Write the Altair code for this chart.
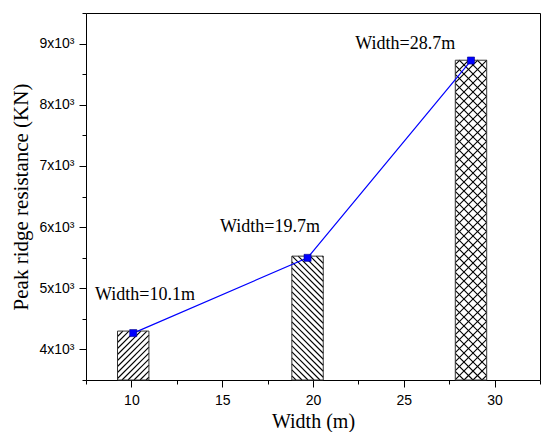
import altair as alt
import pandas as pd
import numpy as np

# ---- data ----
width_m = [10.1, 19.7, 28.7]
bar_kn = [4300, 5525, 8728]
point_kn = [4267, 5497, 8723]
label_text = ["Width=10.1m", "Width=19.7m", "Width=28.7m"]
label_x = [10.75, 17.63, 25.08]
label_y = [4809, 5927, 8912]
x_major = [10, 15, 20, 25, 30]
x_minor = [7.5, 12.5, 17.5, 22.5, 27.5, 32.5]
y_major = [4000, 5000, 6000, 7000, 8000, 9000]
y_minor = [3500, 4500, 5500, 6500, 7500, 8500, 9500]

# ---- layout / style ----
W, H = 454, 367
XDOM = [7.5, 32.5]
YDOM = [3500, 9500]
BAR_W = 1.73
patterns = ["/", "\\", "x"]
spacing_px = [6.0, 6.0, 9.0]
SANS = "Liberation Sans"
SERIF = "Liberation Serif"

bars = pd.DataFrame({
    "x": width_m,
    "xl": [v - BAR_W / 2 for v in width_m],
    "xr": [v + BAR_W / 2 for v in width_m],
    "top": bar_kn,
    "base": [YDOM[0]] * len(bar_kn),
})
pts = pd.DataFrame({"x": width_m, "y": point_kn})
labels = pd.DataFrame({"x": label_x, "y": label_y, "t": label_text})


def to_px(x, y):
    return ((x - XDOM[0]) / (XDOM[1] - XDOM[0]) * W,
            (y - YDOM[0]) / (YDOM[1] - YDOM[0]) * H)


def to_data(u, v):
    return (XDOM[0] + u / W * (XDOM[1] - XDOM[0]),
            YDOM[0] + v / H * (YDOM[1] - YDOM[0]))


def hatch_lines(xl, xr, yb, yt, sign, s):
    u0, v0 = to_px(xl, yb)
    u1, v1 = to_px(xr, yt)
    segs = []
    if sign > 0:  # u - v = c
        cmin, cmax = u0 - v1, u1 - v0
        k0 = int(np.floor(cmin / s))
        k1 = int(np.ceil(cmax / s))
        for k in range(k0, k1 + 1):
            c = k * s
            lo = max(v0, u0 - c)
            hi = min(v1, u1 - c)
            if hi - lo > 0.3:
                segs.append((lo + c, lo, hi + c, hi))
    else:  # u + v = c
        cmin, cmax = u0 + v0, u1 + v1
        k0 = int(np.floor(cmin / s))
        k1 = int(np.ceil(cmax / s))
        for k in range(k0, k1 + 1):
            c = k * s
            lo = max(v0, c - u1)
            hi = min(v1, c - u0)
            if hi - lo > 0.3:
                segs.append((c - lo, lo, c - hi, hi))
    out = []
    for a, b, c2, d in segs:
        x1, y1 = to_data(a, b)
        x2, y2 = to_data(c2, d)
        out.append({"x1": x1, "y1": y1, "x2": x2, "y2": y2})
    return out


rows = []
for i, r in bars.iterrows():
    p = patterns[i]
    s = spacing_px[i]
    if p in ("/", "x"):
        rows += hatch_lines(r.xl, r.xr, r.base, r.top, 1, s)
    if p in ("\\", "x"):
        rows += hatch_lines(r.xl, r.xr, r.base, r.top, -1, s)
hatch = pd.DataFrame(rows)

xs = alt.Scale(domain=XDOM, nice=False, zero=False)
ys = alt.Scale(domain=YDOM, nice=False, zero=False)

x_axis_major = alt.Axis(
    orient="bottom", values=x_major, title="Width (m)", grid=False,
    tickSize=7, tickColor="black", tickWidth=1, domainColor="black", domainWidth=1,
    labelFont=SANS, labelFontSize=14, labelColor="black", labelPadding=6,
    titleFont=SERIF, titleFontSize=20, titleFontWeight="normal", titleColor="black",
    titleY=41, titleBaseline="middle",
)
y_axis_major = alt.Axis(
    orient="left", values=y_major, title="Peak ridge resistance (KN)", grid=False,
    labelExpr="(datum.value/1000) + 'x10³'",
    tickSize=7, tickColor="black", tickWidth=1, domainColor="black", domainWidth=1,
    labelFont=SANS, labelFontSize=14, labelColor="black", labelPadding=5,
    titleFont=SERIF, titleFontSize=21, titleFontWeight="normal", titleColor="black",
    titleX=-65, titleBaseline="middle",
)
x_axis_minor = alt.Axis(orient="bottom", values=x_minor, labels=False, title=None,
                        grid=False, tickSize=4, tickColor="black", domain=False)
y_axis_minor = alt.Axis(orient="left", values=y_minor, labels=False, title=None,
                        grid=False, tickSize=4, tickColor="black", domain=False)
x_axis_top = alt.Axis(orient="top", labels=False, ticks=False, title=None, grid=False,
                      domainColor="black", domainWidth=1)
y_axis_right = alt.Axis(orient="right", labels=False, ticks=False, title=None, grid=False,
                        domainColor="black", domainWidth=1)

bar_fill = alt.Chart(bars).mark_rect(fill="white", stroke=None).encode(
    x=alt.X("xl:Q", scale=xs, axis=x_axis_major),
    x2="xr:Q",
    y=alt.Y("top:Q", scale=ys, axis=y_axis_major),
    y2="base:Q",
)

hatch_layer = alt.Chart(hatch).mark_rule(color="black", strokeWidth=1.1).encode(
    x=alt.X("x1:Q", scale=xs, axis=x_axis_minor),
    x2="x2:Q",
    y=alt.Y("y1:Q", scale=ys, axis=y_axis_minor),
    y2="y2:Q",
)

bar_edge = alt.Chart(bars).mark_rect(fillOpacity=0, stroke="#333333", strokeWidth=1).encode(
    x=alt.X("xl:Q", scale=xs, axis=x_axis_top),
    x2="xr:Q",
    y=alt.Y("top:Q", scale=ys, axis=y_axis_right),
    y2="base:Q",
)

line = alt.Chart(pts).mark_line(color="#0000ff", strokeWidth=1.2).encode(
    x=alt.X("x:Q", scale=xs, axis=None),
    y=alt.Y("y:Q", scale=ys, axis=None),
)

points = alt.Chart(pts).mark_square(color="#0000ff", size=50, opacity=1,
                                     stroke="#00008b", strokeWidth=0.6).encode(
    x=alt.X("x:Q", scale=xs, axis=None),
    y=alt.Y("y:Q", scale=ys, axis=None),
)

texts = alt.Chart(labels).mark_text(font=SERIF, fontSize=18, color="black",
                                    align="center", baseline="alphabetic").encode(
    x=alt.X("x:Q", scale=xs, axis=None),
    y=alt.Y("y:Q", scale=ys, axis=None),
    text="t:N",
)

chart = alt.layer(bar_fill, hatch_layer, bar_edge, line, points, texts).resolve_axis(
    x="independent", y="independent"
).properties(
    width=W, height=H,
    autosize=alt.AutoSizeParams(type="none"),
    padding={"left": 78, "top": 5, "right": 2, "bottom": 52},
).configure_view(
    stroke="black", strokeWidth=1
).configure(background="white")

chart.save("out.html", embed_options={"renderer": "svg", "actions": False})
